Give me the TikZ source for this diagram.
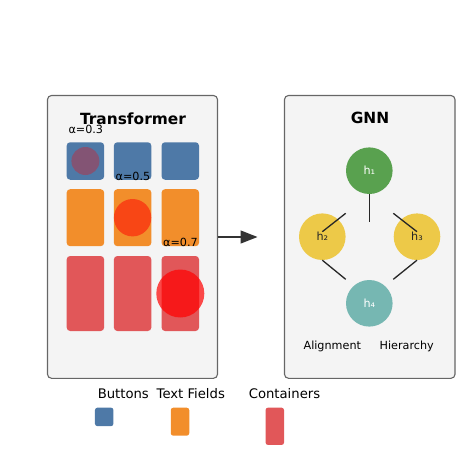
\documentclass[tikz,border=0pt]{standalone}
\usepackage{fontspec}
\setmainfont{DejaVu Sans}
\usetikzlibrary{arrows.meta,calc}

\definecolor{btnblue}{HTML}{4E79A7}
\definecolor{fieldorange}{HTML}{F28E2B}
\definecolor{contred}{HTML}{E15759}
\definecolor{hgreen}{HTML}{59A14F}
\definecolor{hyellow}{HTML}{EDC948}
\definecolor{hteal}{HTML}{76B7B2}
\definecolor{panelgray}{HTML}{F4F4F4}
\newcommand\lblfont{\fontsize{11.2}{13}\selectfont}
\newcommand\keyfont{\fontsize{13.2}{15}\selectfont}
\newcommand\ttlfont{\bfseries\fontsize{15.4}{18}\selectfont}

\tikzset{
  panel/.style={draw=black!60, fill=panelgray, line width=1.1pt, rounded corners=4pt},
  uibox/.style={rounded corners=3.5pt, inner sep=0pt, minimum width=37.5pt},
  btnbox/.style={uibox, fill=btnblue, minimum height=37.5pt},
  fieldbox/.style={uibox, fill=fieldorange, minimum height=57pt},
  contbox/.style={uibox, fill=contred, minimum height=75pt},
  keybox/.style={rounded corners=2.5pt, inner sep=0pt, minimum width=18.5pt},
  hnode/.style={circle, inner sep=0pt, minimum size=46.6pt, font=\lblfont},
  link/.style={draw=black!85, line width=1.3pt}
}

\begin{document}
\begin{tikzpicture}[x=1pt,y=-1pt]
    \useasboundingbox (0,0) rectangle (474,474);
    % panels
    \draw[panel] (47.5,95.5) rectangle (217.5,378.3);
    \draw[panel] (284.5,95.5) rectangle (455,378.3);
    \node[font=\ttlfont] (ttlT) at (133,118.3) {Transformer};
    \node[font=\ttlfont] (ttlG) at (370,118.3) {GNN};

    % ui element grid
    \node[btnbox] (b1) at (85.4,161) {};
    \node[btnbox] (b2) at (132.6,161) {};
    \node[btnbox] (b3) at (180.3,161) {};
    \node[fieldbox] (f1) at (85.4,217.7) {};
    \node[fieldbox] (f2) at (132.6,217.7) {};
    \node[fieldbox] (f3) at (180.3,217.7) {};
    \node[contbox] (c1) at (85.4,293.5) {};
    \node[contbox] (c2) at (132.6,293.5) {};
    \node[contbox] (c3) at (180.3,293.5) {};

    % attention spots
    \fill[red,opacity=0.3] (b1.center) circle (14pt);
    \fill[red,opacity=0.5] (f2.center) circle (18.7pt);
    \fill[red,opacity=0.7] (c3.center) circle (24pt);
    \node[font=\lblfont] (a1) at (85.8,129) {α=0.3};
    \node[font=\lblfont] (a2) at (133,176.5) {α=0.5};
    \node[font=\lblfont] (a3) at (180.5,242.5) {α=0.7};

    % arrow between panels
    \coordinate (arrA) at (217.5,237);
    \coordinate (arrB) at (257.5,237);
    \draw[draw=black!80, line width=1.4pt, -{Triangle[length=17pt,width=13pt]}] (arrA) -- (arrB);

    % graph
    \node[hnode, fill=hgreen, text=white] (h1) at (369.3,170.7) {h₁};
    \node[hnode, fill=hyellow, text=black!85] (h2) at (322.3,236.7) {h₂};
    \node[hnode, fill=hyellow, text=black!85] (h3) at (417,236.7) {h₃};
    \node[hnode, fill=hteal, text=white] (h4) at (369.3,303.3) {h₄};
    \coordinate (e1) at (369.3,222.3);
    \coordinate (e2) at (345.7,213.3);
    \coordinate (e3) at (393.3,213.3);
    \coordinate (e4) at (345.7,279.3);
    \coordinate (e5) at (393.3,279.3);
    \draw[link] (h1.south) -- (e1);
    \draw[link] (e2) -- ($(h2.center)+(0,-5)$);
    \draw[link] (e3) -- ($(h3.center)+(0,-5)$);
    \draw[link] (h2.south) -- (e4);
    \draw[link] (h3.south) -- (e5);
    \node[font=\lblfont] (al) at (332.3,346.7) {Alignment};
    \node[font=\lblfont] (hi) at (406.7,346.7) {Hierarchy};

    % legend
    \node[font=\keyfont] (kbt) at (123.3,393.3) {Buttons};
    \node[font=\keyfont] (kft) at (190.8,393.3) {Text Fields};
    \node[font=\keyfont] (kct) at (284.5,393.3) {Containers};
    \node[keybox, fill=btnblue, minimum height=18.5pt] (k1) at (104.2,416.9) {};
    \node[keybox, fill=fieldorange, minimum height=28pt] (k2) at (180,421.7) {};
    \node[keybox, fill=contred, minimum height=37.3pt] (k3) at (274.8,426.3) {};
\end{tikzpicture}
\end{document}
